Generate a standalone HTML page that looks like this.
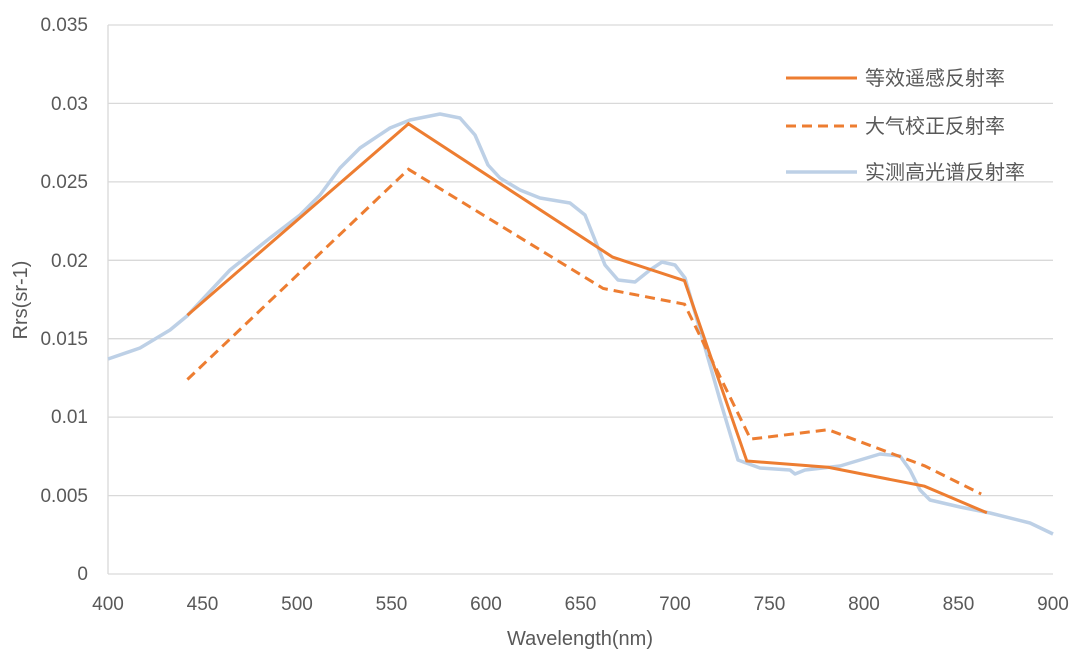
<!DOCTYPE html>
<html><head><meta charset="utf-8"><style>body{margin:0;background:#fff}svg{display:block}text{font-family:"Liberation Sans","Noto Sans CJK SC",sans-serif;fill:#595959}</style></head><body>
<svg width="1080" height="659" viewBox="0 0 1080 659">
<g stroke="#d9d9d9" stroke-width="1.3">
<line x1="108" y1="25" x2="1053" y2="25"/><line x1="108" y1="103.4" x2="1053" y2="103.4"/><line x1="108" y1="181.9" x2="1053" y2="181.9"/><line x1="108" y1="260.3" x2="1053" y2="260.3"/><line x1="108" y1="338.7" x2="1053" y2="338.7"/><line x1="108" y1="417.1" x2="1053" y2="417.1"/><line x1="108" y1="495.6" x2="1053" y2="495.6"/>
<line x1="108" y1="574" x2="1053" y2="574"/><line x1="108" y1="25" x2="108" y2="574"/>
</g>
<g font-size="19" text-anchor="end">
<text x="88" y="31">0.035</text><text x="88" y="110">0.03</text><text x="88" y="188">0.025</text><text x="88" y="267">0.02</text><text x="88" y="345">0.015</text><text x="88" y="423">0.01</text><text x="88" y="502">0.005</text><text x="88" y="580">0</text>
</g>
<g font-size="19" text-anchor="middle">
<text x="108" y="610">400</text><text x="202.5" y="610">450</text><text x="297" y="610">500</text><text x="391.5" y="610">550</text><text x="486" y="610">600</text><text x="580.5" y="610">650</text><text x="675" y="610">700</text><text x="769.5" y="610">750</text><text x="864" y="610">800</text><text x="958.5" y="610">850</text><text x="1053" y="610">900</text>
<text x="580" y="645" font-size="20">Wavelength(nm)</text>
<text transform="translate(27,300) rotate(-90)" font-size="20">Rrs(sr-1)</text>
</g>
<polyline fill="none" stroke="#bdd0e6" stroke-width="3.5" stroke-linejoin="round" points="108,359 140,348 170,330 187,316 230,270 270,238 300,215 320,195 340,168 360,148 390,128 410,120 440,114 460,118 475,135 488,165 500,178 520,190 540,198 570,203 585,215 595,240 605,265 618,280 635,282 650,270 662,262 675,265 685,278 700,330 720,400 738,460 760,468 790,470 795,474 805,470 840,466 860,460 880,454 900,456 910,470 920,490 930,500 960,507 990,513 1030,523 1053,534"/>
<polyline fill="none" stroke="#ed7d31" stroke-width="3" stroke-dasharray="10,6" points="187.4,379.5 408.5,169.3 603.2,288.5 684.5,304.2 750.6,439.1 828.1,429.7 924.5,465.8 981.2,494"/>
<polyline fill="none" stroke="#ed7d31" stroke-width="3" points="187.4,315.2 408.5,123.8 612.6,257.1 684.5,280.7 746.8,461 828.1,467.3 924.5,486.2 986.9,512.8"/>
<line x1="786" y1="78" x2="857" y2="78" stroke="#ed7d31" stroke-width="3"/>
<line x1="786" y1="126" x2="857" y2="126" stroke="#ed7d31" stroke-width="3" stroke-dasharray="10,6"/>
<line x1="786" y1="172" x2="857" y2="172" stroke="#bdd0e6" stroke-width="3.5"/>
<g font-size="20"><text x="865" y="85">等效遥感反射率</text><text x="865" y="133">大气校正反射率</text><text x="865" y="179">实测高光谱反射率</text></g>
</svg></body></html>
